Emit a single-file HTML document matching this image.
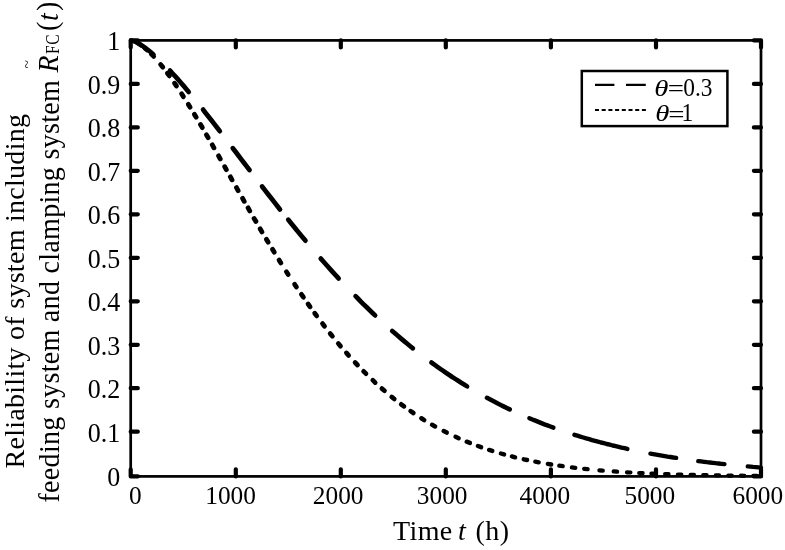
<!DOCTYPE html>
<html><head><meta charset="utf-8"><title>Reliability of system</title>
<style>
html,body{margin:0;padding:0;background:#fff;}
body{width:785px;height:550px;overflow:hidden;}
svg{display:block;}
text{font-family:"Liberation Serif",serif;fill:#000;}
.tk{font-size:26px;}
.ti{font-size:28px;}
.lg{font-size:24px;}
i,.it{font-style:italic;}
</style></head><body>
<svg width="785" height="550" viewBox="0 0 785 550">
<rect width="785" height="550" fill="#fff"/>
<rect x="130.7" y="40.4" width="630.3" height="436.0" fill="none" stroke="#000" stroke-width="2.7"/>
<path d="M130.7,476.4 V469.3 M130.7,40.4 V47.5 M235.8,476.4 V469.3 M235.8,40.4 V47.5 M340.8,476.4 V469.3 M340.8,40.4 V47.5 M445.8,476.4 V469.3 M445.8,40.4 V47.5 M550.9,476.4 V469.3 M550.9,40.4 V47.5 M656.0,476.4 V469.3 M656.0,40.4 V47.5 M761.0,476.4 V469.3 M761.0,40.4 V47.5 M130.7,476.4 H137.8 M761.0,476.4 H753.9 M130.7,431.7 H137.8 M761.0,431.7 H753.9 M130.7,388.2 H137.8 M761.0,388.2 H753.9 M130.7,344.8 H137.8 M761.0,344.8 H753.9 M130.7,301.3 H137.8 M761.0,301.3 H753.9 M130.7,257.8 H137.8 M761.0,257.8 H753.9 M130.7,214.3 H137.8 M761.0,214.3 H753.9 M130.7,170.8 H137.8 M761.0,170.8 H753.9 M130.7,127.4 H137.8 M761.0,127.4 H753.9 M130.7,83.9 H137.8 M761.0,83.9 H753.9 M130.7,40.4 H137.8 M761.0,40.4 H753.9" stroke="#000" stroke-width="4.2" stroke-linecap="round" fill="none"/>
<g stroke="#000" stroke-linecap="round" stroke-linejoin="round" fill="none">
<path d="M131.0,40.4 L133.8,41.2 L136.6,42.4 L139.4,44.0 L142.2,45.7 L145.0,47.7 L147.8,49.8 L150.6,52.0 L153.4,54.4" stroke-width="4.62"/>
<path d="M170.0,70.6 L172.6,73.5 L175.3,76.4 L178.0,79.4 L180.7,82.5 L183.4,85.6 L186.0,88.8 L188.7,92.0" stroke-width="4.76"/>
<path d="M203.1,109.6 L205.8,113.2 L208.6,116.7 L211.4,120.3 L214.2,123.9 L217.0,127.5 L219.8,131.1" stroke-width="4.79"/>
<path d="M232.8,148.2 L235.6,151.8 L238.4,155.5 L241.1,159.1 L243.9,162.7 L246.7,166.4 L249.5,170.0" stroke-width="4.80"/>
<path d="M262.1,186.5 L265.1,190.4 L268.1,194.2 L271.1,198.0 L274.1,201.9 L277.1,205.7 L280.0,209.4" stroke-width="4.79"/>
<path d="M288.3,219.7 L291.1,223.2 L294.0,226.8 L296.8,230.3 L299.7,233.7 L302.6,237.2 L305.4,240.6" stroke-width="4.78"/>
<path d="M320.8,258.6 L323.8,262.0 L326.7,265.3 L329.7,268.6 L332.6,271.9 L335.6,275.1 L338.6,278.4" stroke-width="4.76"/>
<path d="M355.6,296.2 L358.4,299.0 L361.1,301.8 L363.9,304.6 L366.7,307.3 L369.5,310.0 L372.3,312.7 L375.1,315.4" stroke-width="4.73"/>
<path d="M392.2,331.0 L395.2,333.6 L398.1,336.1 L401.1,338.6 L404.1,341.1 L407.0,343.5 L410.0,346.0 L412.9,348.3" stroke-width="4.68"/>
<path d="M431.4,362.5 L434.4,364.6 L437.4,366.8 L440.3,368.9 L443.3,370.9 L446.3,373.0 L449.3,375.0 L452.2,377.0 L455.2,378.9 L458.2,380.8 L461.2,382.7 L464.1,384.5 L467.1,386.4" stroke-width="4.62"/>
<path d="M487.0,397.8 L489.8,399.3 L492.7,400.8 L495.5,402.3 L498.3,403.8 L501.2,405.2 L504.0,406.6 L506.8,408.0 L509.7,409.4" stroke-width="4.54"/>
<path d="M529.4,418.2 L532.4,419.5 L535.4,420.7 L538.4,421.9 L541.4,423.1 L544.4,424.3 L547.4,425.4 L550.4,426.5 L553.4,427.6" stroke-width="4.47"/>
<path d="M574.4,434.8 L577.4,435.7 L580.3,436.6 L583.3,437.5 L586.2,438.4 L589.2,439.2 L592.1,440.1 L595.0,440.9 L598.0,441.7 L600.9,442.5 L603.9,443.2 L606.8,444.0 L609.8,444.7 L612.7,445.5 L615.7,446.2 L618.6,446.9 L621.5,447.6 L624.5,448.2 L627.4,448.9" stroke-width="4.39"/>
<path d="M650.4,453.6 L653.3,454.1 L656.2,454.6 L659.0,455.1 L661.9,455.6 L664.7,456.1 L667.6,456.6 L670.4,457.0 L673.3,457.5 L676.2,457.9" stroke-width="4.33"/>
<path d="M698.2,461.1 L701.1,461.4 L704.1,461.8 L707.0,462.2 L709.9,462.5 L712.8,462.8 L715.7,463.2 L718.6,463.5 L721.5,463.8 L724.5,464.1" stroke-width="4.29"/>
<path d="M747.7,466.4 L750.4,466.6 L753.0,466.9 L755.7,467.1 L758.3,467.3 L761.0,467.5" stroke-width="4.26"/>
<path d="M138.1,43.1 L140.9,45.0" stroke-width="4.60"/>
<path d="M144.7,47.9 L147.3,50.1" stroke-width="4.69"/>
<path d="M151.3,54.0 L153.7,56.4" stroke-width="4.74"/>
<path d="M160.6,64.5 L162.8,67.1" stroke-width="4.79"/>
<path d="M167.4,73.2 L169.4,75.9" stroke-width="4.80"/>
<path d="M174.5,83.2 L176.5,86.0" stroke-width="4.82"/>
<path d="M181.6,93.8 L183.4,96.6" stroke-width="4.83"/>
<path d="M188.3,104.4 L190.1,107.3" stroke-width="4.84"/>
<path d="M194.4,114.4 L196.2,117.3" stroke-width="4.84"/>
<path d="M200.5,124.6 L202.3,127.6" stroke-width="4.85"/>
<path d="M206.4,134.8 L208.2,137.7" stroke-width="4.85"/>
<path d="M212.3,144.9 L213.9,147.8" stroke-width="4.85"/>
<path d="M218.6,155.9 L220.2,158.9" stroke-width="4.85"/>
<path d="M224.7,166.7 L226.3,169.7" stroke-width="4.85"/>
<path d="M230.4,176.8 L232.0,179.8" stroke-width="4.85"/>
<path d="M236.5,187.6 L238.1,190.6" stroke-width="4.85"/>
<path d="M242.6,198.3 L244.2,201.3" stroke-width="4.85"/>
<path d="M248.1,207.9 L249.7,210.9" stroke-width="4.85"/>
<path d="M254.1,218.5 L255.9,221.4" stroke-width="4.85"/>
<path d="M260.2,228.9 L262.0,231.9" stroke-width="4.85"/>
<path d="M266.4,239.4 L268.2,242.3" stroke-width="4.84"/>
<path d="M272.5,249.4 L274.3,252.3" stroke-width="4.84"/>
<path d="M279.1,260.1 L280.9,263.0" stroke-width="4.84"/>
<path d="M286.4,271.7 L288.2,274.5" stroke-width="4.83"/>
<path d="M294.6,284.2 L296.4,287.0" stroke-width="4.82"/>
<path d="M301.4,294.4 L303.4,297.2" stroke-width="4.82"/>
<path d="M308.1,304.0 L310.1,306.8" stroke-width="4.81"/>
<path d="M314.7,313.2 L316.7,315.9" stroke-width="4.80"/>
<path d="M322.5,323.6 L324.5,326.3" stroke-width="4.80"/>
<path d="M330.2,333.6 L332.4,336.2" stroke-width="4.79"/>
<path d="M338.3,343.5 L340.5,346.1" stroke-width="4.77"/>
<path d="M346.4,352.9 L348.6,355.4" stroke-width="4.76"/>
<path d="M355.1,362.5 L357.5,365.0" stroke-width="4.75"/>
<path d="M363.6,371.3 L366.0,373.7" stroke-width="4.73"/>
<path d="M372.8,380.2 L375.2,382.6" stroke-width="4.71"/>
<path d="M381.9,388.6 L384.5,390.8" stroke-width="4.69"/>
<path d="M391.7,396.9 L394.3,399.0" stroke-width="4.67"/>
<path d="M401.2,404.3 L404.0,406.4" stroke-width="4.65"/>
<path d="M410.6,411.1 L413.4,413.0" stroke-width="4.62"/>
<path d="M421.4,418.3 L424.2,420.1" stroke-width="4.60"/>
<path d="M432.1,424.8 L435.1,426.4" stroke-width="4.57"/>
<path d="M443.7,431.0 L446.7,432.6" stroke-width="4.54"/>
<path d="M455.6,436.8 L458.6,438.2" stroke-width="4.51"/>
<path d="M466.7,441.7 L469.9,442.9" stroke-width="4.48"/>
<path d="M477.9,446.0 L481.1,447.2" stroke-width="4.45"/>
<path d="M489.1,449.9 L492.3,450.9" stroke-width="4.43"/>
<path d="M500.9,453.5 L504.1,454.4" stroke-width="4.40"/>
<path d="M511.9,456.4 L515.1,457.3" stroke-width="4.38"/>
<path d="M523.7,459.3 L527.1,460.0" stroke-width="4.36"/>
<path d="M535.3,461.7 L538.7,462.3" stroke-width="4.34"/>
<path d="M547.8,463.9 L551.2,464.5" stroke-width="4.32"/>
<path d="M559.3,465.7 L562.7,466.2" stroke-width="4.31"/>
<path d="M571.9,467.4 L575.3,467.8" stroke-width="4.29"/>
<path d="M584.2,468.8 L587.6,469.2" stroke-width="4.28"/>
<path d="M599.4,470.3 L602.8,470.6" stroke-width="4.26"/>
<path d="M613.7,471.4 L617.1,471.7" stroke-width="4.25"/>
<path d="M627.0,472.3 L630.4,472.5" stroke-width="4.24"/>
<path d="M639.2,473.0 L642.6,473.2" stroke-width="4.24"/>
<path d="M651.4,473.6 L654.8,473.7" stroke-width="4.23"/>
<path d="M665.1,474.1 L668.5,474.2" stroke-width="4.23"/>
<path d="M677.9,474.5 L681.3,474.6" stroke-width="4.22"/>
<path d="M690.6,474.9 L694.0,474.9" stroke-width="4.22"/>
<path d="M703.2,475.1 L706.6,475.2" stroke-width="4.21"/>
<path d="M715.7,475.4 L719.1,475.4" stroke-width="4.21"/>
<path d="M728.3,475.6 L731.7,475.6" stroke-width="4.21"/>
<path d="M740.9,475.7 L744.3,475.8" stroke-width="4.21"/>
<path d="M753.3,475.8 L756.7,475.9" stroke-width="4.21"/>
</g>
<g class="tk">
<text transform="translate(135.4,504) scale(0.975,1)" text-anchor="middle">0</text>
<text transform="translate(230.6,504) scale(0.975,1)" text-anchor="middle">1000</text>
<text transform="translate(338.2,504) scale(0.975,1)" text-anchor="middle">2000</text>
<text transform="translate(442.2,504) scale(0.975,1)" text-anchor="middle">3000</text>
<text transform="translate(544.8,504) scale(0.975,1)" text-anchor="middle">4000</text>
<text transform="translate(649.8,504) scale(0.975,1)" text-anchor="middle">5000</text>
<text transform="translate(757.8,504) scale(0.975,1)" text-anchor="middle">6000</text>
<text transform="translate(120.3,486.3) scale(1,1.07)" text-anchor="end">0</text>
<text transform="translate(120.3,441.6) scale(1,1.07)" text-anchor="end">0.1</text>
<text transform="translate(120.3,398.1) scale(1,1.07)" text-anchor="end">0.2</text>
<text transform="translate(120.3,354.7) scale(1,1.07)" text-anchor="end">0.3</text>
<text transform="translate(120.3,311.2) scale(1,1.07)" text-anchor="end">0.4</text>
<text transform="translate(120.3,267.7) scale(1,1.07)" text-anchor="end">0.5</text>
<text transform="translate(120.3,224.2) scale(1,1.07)" text-anchor="end">0.6</text>
<text transform="translate(120.3,180.7) scale(1,1.07)" text-anchor="end">0.7</text>
<text transform="translate(120.3,137.3) scale(1,1.07)" text-anchor="end">0.8</text>
<text transform="translate(120.3,93.8) scale(1,1.07)" text-anchor="end">0.9</text>
<text transform="translate(120.3,50.3) scale(1,1.07)" text-anchor="end">1</text>
</g>
<text class="ti" x="393" y="539.5" textLength="116" lengthAdjust="spacing">Time <tspan class="it" dx="-2">t</tspan><tspan dx="2"> (h)</tspan></text>
<text class="ti" transform="translate(23.7,468.5) rotate(-90)" textLength="354.5" lengthAdjust="spacing">Reliability of system including</text>
<g transform="translate(58.9,502.5) rotate(-90)">
<text class="ti" transform="scale(1,1.08)" x="0" y="0" textLength="422.3" lengthAdjust="spacing">feeding system and clamping system</text>
<g transform="translate(0.8,-0.9) scale(1,1.08)">
<text class="ti it" x="429.2" y="0">R</text>
<text class="ti" x="470.7" y="-0.7">(</text>
<text class="ti it" x="480.8" y="0">t</text>
<text class="ti" x="490.8" y="-0.7">)</text>
</g>
<text transform="translate(448.6,0) scale(1,1.17)" style="font-size:15.5px" textLength="19.6" lengthAdjust="spacing">FC</text>
<text x="433.9" y="-26.7" style="font-size:15.5px">~</text>
</g>
<rect x="581.8" y="71" width="145.6" height="55.1" fill="#fff" stroke="#000" stroke-width="2.5"/>
<path d="M595,84.9 H614.4 M626,84.9 H645.8" stroke="#000" stroke-width="2.4" fill="none"/>
<path d="M595,110 H646" stroke="#000" stroke-width="2" stroke-dasharray="4 2.7" fill="none"/>
<g class="lg">
<text class="it" transform="translate(654.2,95.8) scale(1.2,1.0)">θ</text>
<text transform="translate(667.7,96.2) scale(1.2,1.0)">=</text>
<text transform="translate(683.3,95.8) scale(0.975,1.06)">0.3</text>
<text class="it" transform="translate(655.2,121.4) scale(1.2,1.0)">θ</text>
<text transform="translate(668.2,121.8) scale(1.2,1.0)">=</text>
<text transform="translate(681.4,121.4) scale(0.975,1.06)">1</text>
</g>
</svg>
</body></html>
